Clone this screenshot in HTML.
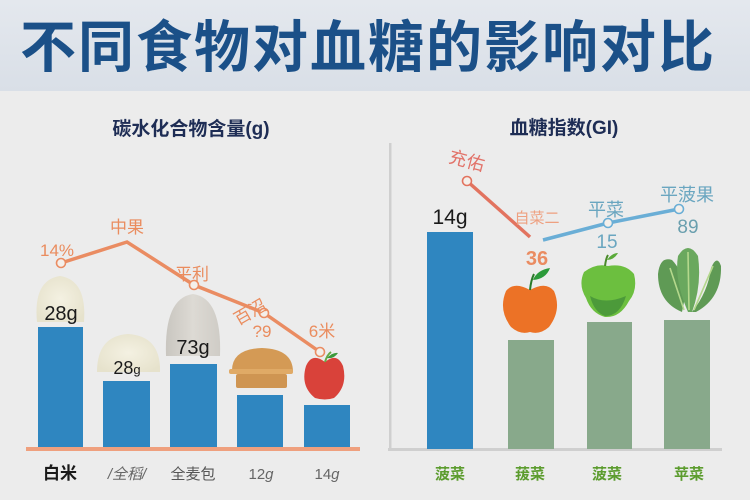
<!DOCTYPE html>
<html><head><meta charset="utf-8">
<style>
html,body{margin:0;padding:0;background:#ececec;}
svg{display:block;}
text{font-family:"Liberation Sans","Noto Sans CJK SC",sans-serif;}
</style></head>
<body>
<svg width="750" height="500" viewBox="0 0 750 500" xmlns="http://www.w3.org/2000/svg">
<defs>
<linearGradient id="hdr" x1="0" y1="0" x2="0" y2="1">
<stop offset="0" stop-color="#e4e8ee"/><stop offset="1" stop-color="#d9dfe7"/>
</linearGradient>
<radialGradient id="rice" cx="0.5" cy="0.5" r="0.6">
<stop offset="0" stop-color="#f4f1e2"/><stop offset="1" stop-color="#e6e2cc"/>
</radialGradient>
<linearGradient id="gbread" x1="0" y1="0" x2="1" y2="0">
<stop offset="0" stop-color="#c9c6c0"/><stop offset="0.5" stop-color="#dddad4"/><stop offset="1" stop-color="#cfccc6"/>
</linearGradient>
</defs>
<rect width="750" height="500" fill="#ececec"/>
<rect width="750" height="91" fill="url(#hdr)"/>
<text x="368" y="67" text-anchor="middle" font-size="56" font-weight="bold" fill="#1b5088" letter-spacing="2">不同食物对血糖的影响对比</text>

<!-- LEFT PANEL -->
<text x="191" y="135" text-anchor="middle" font-size="19" font-weight="bold" fill="#1e2d55">碳水化合物含量(g)</text>

<!-- food images left -->
<path d="M37 322 Q33 280 60 276 Q87 280 84 322 Z" fill="url(#rice)"/>
<path d="M97 372 Q97 336 128 334 Q161 336 160 372 Z" fill="url(#rice)"/>
<path d="M166 356 Q164 298 193 294 Q222 298 220 356 Z" fill="url(#gbread)"/>
<path d="M232 372 Q231 349 262 348 Q293 349 293 372 Z" fill="#d49a55"/>
<rect x="229" y="369" width="64" height="5" rx="2" fill="#e0aa66"/>
<rect x="236" y="374" width="51" height="14" rx="2" fill="#cf9552"/>
<path d="M325 362 Q312 352 306 366 Q300 386 315 398 Q325 401 334 398 Q348 386 343 366 Q337 352 325 362 Z" fill="#d9423a"/>
<path d="M325 362 Q327 355 331 352" stroke="#6a4" stroke-width="2" fill="none"/>
<path d="M327 358 Q333 352 338 353 Q334 359 327 358 Z" fill="#3c9a3c"/>

<!-- bars left -->
<rect x="38" y="327" width="45" height="122" fill="#2f86c0"/>
<rect x="103" y="381" width="47" height="68" fill="#2f86c0"/>
<rect x="170" y="364" width="47" height="85" fill="#2f86c0"/>
<rect x="237" y="395" width="46" height="54" fill="#2f86c0"/>
<rect x="304" y="405" width="46" height="44" fill="#2f86c0"/>
<rect x="26" y="447" width="334" height="4" fill="#efa07e"/>

<text x="61" y="320" text-anchor="middle" font-size="20" fill="#1a1a1a">28g</text>
<text x="127" y="374" text-anchor="middle" font-size="18" fill="#1a1a1a">28<tspan font-size="13">g</tspan></text>
<text x="193" y="354" text-anchor="middle" font-size="20" fill="#1a1a1a">73g</text>

<!-- line left -->
<polyline points="61,263 127,242 194,285 264,313 320,352" fill="none" stroke="#ea8c62" stroke-width="3.5"/>
<g fill="#f4efea" stroke="#ea8c62" stroke-width="1.6">
<circle cx="61" cy="263" r="4.5"/><circle cx="194" cy="285" r="4.5"/><circle cx="264" cy="313" r="4.5"/><circle cx="320" cy="352" r="4.5"/>
</g>
<g fill="#ea8c5e" font-size="17">
<text x="57" y="256" text-anchor="middle">14%</text>
<text x="127" y="233" text-anchor="middle">中果</text>
<text x="192" y="280" text-anchor="middle">平利</text>
<text x="250" y="318" text-anchor="middle" transform="rotate(-30 250 312)">百沼</text>
<text x="262" y="337" text-anchor="middle">?9</text>
<text x="322" y="337" text-anchor="middle">6米</text>
</g>

<g font-size="15" text-anchor="middle">
<text x="60" y="479" font-weight="bold" font-size="17" fill="#1a1a1a">白米</text>
<text x="127" y="479" fill="#666" font-style="italic">/全稻/</text>
<text x="193" y="479" fill="#555">全麦包</text>
<text x="261" y="479" fill="#666">12<tspan font-style="italic">g</tspan></text>
<text x="327" y="479" fill="#666">14<tspan font-style="italic">g</tspan></text>
</g>

<!-- RIGHT PANEL -->
<text x="564" y="134" text-anchor="middle" font-size="19" font-weight="bold" fill="#1e2d55">血糖指数(GI)</text>
<rect x="389" y="143" width="2.5" height="307" fill="#cfcfcf"/>
<rect x="388" y="448" width="334" height="3" fill="#cfcfcf"/>

<!-- images right -->
<path d="M530 290 Q514 281 506 291 Q498 310 511 327 Q520 335 530 332 Q540 335 549 327 Q562 310 554 291 Q546 281 530 290 Z" fill="#ec7226"/>
<path d="M530 290 Q531 280 534 274" stroke="#2a7a2a" stroke-width="2" fill="none"/>
<path d="M533 280 Q537 270 550 268 Q546 279 533 280 Z" fill="#2b9a3a"/>
<path d="M584 272 Q596 263 608 266 Q625 263 634 274 Q638 290 629 301 Q620 318 605 317 Q591 313 586 298 Q578 285 584 272 Z" fill="#6cbf3f"/>
<path d="M590 296 Q605 305 626 296 Q620 316 605 316 Q594 312 590 296 Z" fill="#4c9a3a"/>
<path d="M605 266 Q606 258 608 255" stroke="#4a8a2a" stroke-width="2" fill="none"/>
<path d="M607 260 Q612 253 618 253 Q614 260 607 260 Z" fill="#5aaa3a"/>
<path d="M682 312 Q658 302 658 274 Q660 256 672 260 Q682 270 686 292 Z" fill="#5f9a55"/>
<path d="M688 312 Q674 280 678 256 Q688 240 698 256 Q702 285 692 312 Z" fill="#6aa85e"/>
<path d="M692 312 Q708 292 711 268 Q717 254 721 266 Q722 298 696 312 Z" fill="#5f9a55"/>
<path d="M670 268 L684 310 M688 252 L689 310 M713 266 L694 310" stroke="#b4d88c" stroke-width="1.6" fill="none"/>

<!-- bars right -->
<rect x="427" y="232" width="46" height="217" fill="#2f86c0"/>
<rect x="508" y="340" width="46" height="109" fill="#88a98b"/>
<rect x="587" y="322" width="45" height="127" fill="#88a98b"/>
<rect x="664" y="320" width="46" height="129" fill="#88a98b"/>

<text x="450" y="224" text-anchor="middle" font-size="21" fill="#1a1a1a">14g</text>

<!-- lines right -->
<line x1="467" y1="181" x2="530" y2="237" stroke="#e2735f" stroke-width="3.5"/>
<circle cx="467" cy="181" r="4.5" fill="#f4efea" stroke="#e2735f" stroke-width="1.6"/>
<polyline points="543,240 608,223 679,209" fill="none" stroke="#6aaed6" stroke-width="3.5"/>
<circle cx="608" cy="223" r="4.5" fill="#f4efea" stroke="#6aaed6" stroke-width="1.6"/>
<circle cx="679" cy="209" r="4.5" fill="#f4efea" stroke="#6aaed6" stroke-width="1.6"/>

<text x="467" y="167" text-anchor="middle" font-size="18" fill="#e2736a" transform="rotate(15 467 160)">充佑</text>
<text x="537" y="223" text-anchor="middle" font-size="15" fill="#eea080">自菜二</text>
<text x="537" y="265" text-anchor="middle" font-size="20" font-weight="bold" fill="#ea8c62">36</text>
<text x="606" y="216" text-anchor="middle" font-size="18" fill="#6aa6c0">平菜</text>
<text x="607" y="248" text-anchor="middle" font-size="19" fill="#6aa6c0">15</text>
<text x="687" y="201" text-anchor="middle" font-size="18" fill="#6aa6c0">平菠果</text>
<text x="688" y="233" text-anchor="middle" font-size="19" fill="#6a9fae">89</text>

<g font-size="15" font-weight="bold" fill="#5c9c2e" text-anchor="middle">
<text x="450" y="479">菠菜</text>
<text x="530" y="479">菝菜</text>
<text x="607" y="479">菠菜</text>
<text x="689" y="479">苹菜</text>
</g>
</svg>
</body></html>
